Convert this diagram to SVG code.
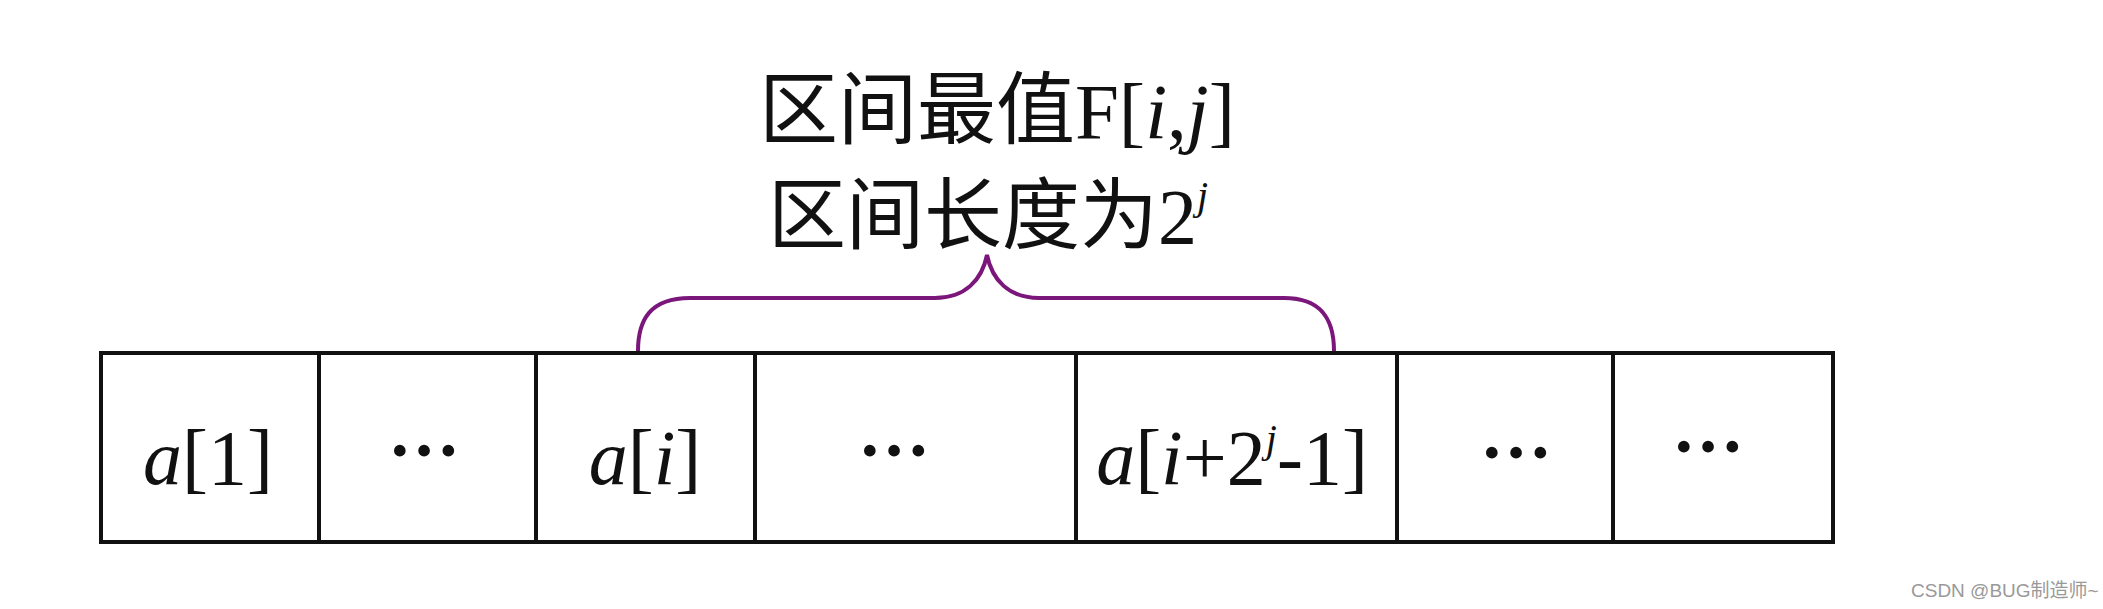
<svg xmlns="http://www.w3.org/2000/svg" width="2103" height="609" viewBox="0 0 2103 609">
<style>
.cell{fill:#fff;stroke:#111;stroke-width:4}
.t{font-family:"Liberation Serif","Noto Sans CJK SC",serif;fill:#111;text-anchor:middle}
.ct{font-size:78px}
.dots{font-size:72px;font-weight:bold}
.it{font-style:italic}
.brace{fill:none;stroke:#7b177b;stroke-width:4}
.wm{font-family:"Liberation Sans","Noto Sans CJK SC",sans-serif;font-size:19px;fill:#999}
</style>
<rect width="2103" height="609" fill="#fff"/>
<g id="title">
<text class="t" x="997" y="138" font-size="79">区间最值F[<tspan class="it">i</tspan>,<tspan class="it">j</tspan>]</text>
<text class="t" x="988" y="243" font-size="78">区间长度为2<tspan class="it" font-size="40" dy="-34">j</tspan></text>
</g>
<g id="cell1"><rect class="cell" x="101" y="353" width="218" height="189"/><text class="t ct" x="208" y="484"><tspan class="it">a</tspan>[1]</text></g>
<g id="cell2"><rect class="cell" x="319" y="353" width="217" height="189"/><text class="t dots" x="424" y="456">…</text></g>
<g id="cell3"><rect class="cell" x="536" y="353" width="219" height="189"/><text class="t ct" x="645" y="484"><tspan class="it">a</tspan>[<tspan class="it">i</tspan>]</text></g>
<g id="cell4"><rect class="cell" x="755" y="353" width="321" height="189"/><text class="t dots" x="894" y="456">…</text></g>
<g id="cell5"><rect class="cell" x="1076" y="353" width="321" height="189"/><text class="t ct" x="1232" y="484"><tspan class="it">a</tspan>[<tspan class="it">i</tspan>+2<tspan class="it" font-size="40" dy="-32">j</tspan><tspan dy="32">-1]</tspan></text></g>
<g id="cell6"><rect class="cell" x="1397" y="353" width="216" height="189"/><text class="t dots" x="1516" y="458">…</text></g>
<g id="cell7"><rect class="cell" x="1613" y="353" width="220" height="189"/><text class="t dots" x="1708" y="452">…</text></g>
<g id="connectors">
<path class="brace" d="M638,351 C638,320 650,298 690,298 L935,298 C965,298 982,280 987,255 C992,280 1009,298 1039,298 L1284,298 C1322,298 1334,320 1334,351"/>
</g>
<text class="wm" x="1911" y="597">CSDN @BUG制造师~</text>
</svg>
